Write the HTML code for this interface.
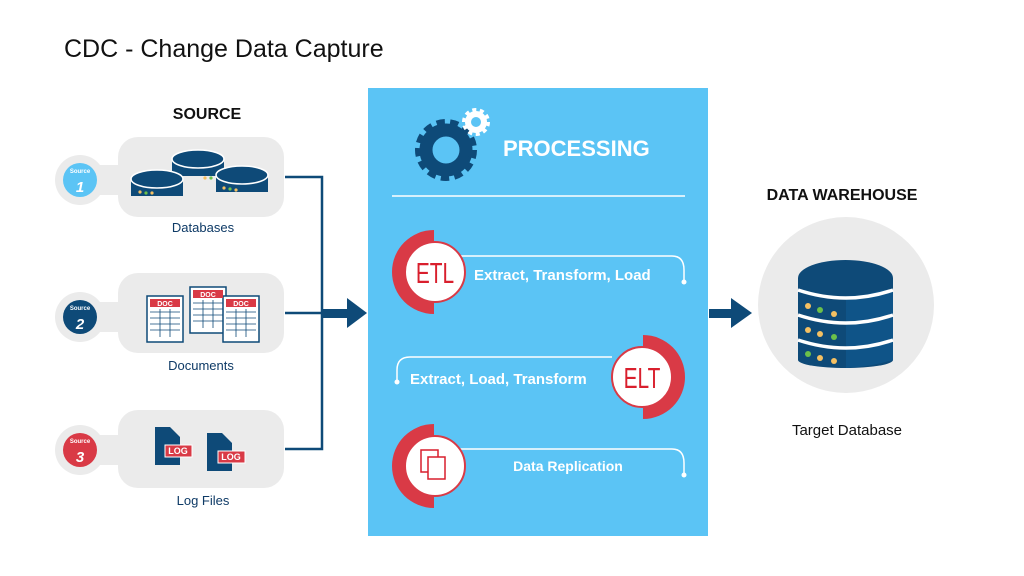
<!DOCTYPE html>
<html><head><meta charset="utf-8"><style>
html,body{margin:0;padding:0;background:#fff;}
svg{display:block;font-family:"Liberation Sans",sans-serif;}
</style></head><body>
<svg width="1024" height="576" viewBox="0 0 1024 576" xmlns="http://www.w3.org/2000/svg">
<rect width="1024" height="576" fill="#fff"/>
<text x="64" y="57" font-size="25" fill="#111">CDC - Change Data Capture</text>
<text x="207" y="119" font-size="16" font-weight="bold" fill="#111" text-anchor="middle">SOURCE</text>

<g fill="#ebebeb">
  <rect x="118" y="137" width="166" height="80" rx="20"/>
  <rect x="118" y="273" width="166" height="80" rx="20"/>
  <rect x="118" y="410" width="166" height="78" rx="20"/>
  <circle cx="80" cy="180" r="25"/><rect x="80" y="165" width="45" height="30"/>
  <circle cx="80" cy="317" r="25"/><rect x="80" y="302" width="45" height="30"/>
  <circle cx="80" cy="450" r="25"/><rect x="80" y="435" width="45" height="30"/>
</g>
<circle cx="80" cy="180" r="17" fill="#5bc4f5"/>
<circle cx="80" cy="317" r="17" fill="#0e4a78"/>
<circle cx="80" cy="450" r="17" fill="#d93a46"/>
<g fill="#fff" font-weight="bold" text-anchor="middle">
  <text x="80" y="173" font-size="6">Source</text><text x="80" y="192" font-size="15" font-style="italic">1</text>
  <text x="80" y="310" font-size="6">Source</text><text x="80" y="329" font-size="15" font-style="italic">2</text>
  <text x="80" y="443" font-size="6">Source</text><text x="80" y="462" font-size="15" font-style="italic">3</text>
</g>

<g>
  <rect x="172" y="160" width="52" height="16" fill="#0e4a78"/><ellipse cx="198" cy="159" rx="26" ry="9" fill="#0e4a78" stroke="#fff" stroke-width="1.5"/>
  <rect x="131" y="180" width="52" height="16" fill="#0e4a78"/><ellipse cx="157" cy="179" rx="26" ry="9" fill="#0e4a78" stroke="#fff" stroke-width="1.5"/>
  <rect x="216" y="176" width="52" height="16" fill="#0e4a78"/><ellipse cx="242" cy="175" rx="26" ry="9" fill="#0e4a78" stroke="#fff" stroke-width="1.5"/>
  <g fill="#f5c062"><circle cx="140" cy="192" r="1.6"/><circle cx="152" cy="193" r="1.6"/><circle cx="205" cy="178" r="1.6"/><circle cx="224" cy="188" r="1.6"/><circle cx="236" cy="190" r="1.6"/></g>
  <g fill="#6cc04a"><circle cx="146" cy="193" r="1.6"/><circle cx="211" cy="178" r="1.6"/><circle cx="230" cy="189" r="1.6"/></g>
</g>
<text x="203" y="232" font-size="13" fill="#0e3a66" text-anchor="middle">Databases</text>

<g stroke="#0e4a78" stroke-width="1.5">
  <rect x="147" y="296" width="36" height="46" fill="#fff"/>
  <rect x="190" y="287" width="36" height="46" fill="#fff"/>
  <rect x="223" y="296" width="36" height="46" fill="#fff"/>
</g>
<g fill="#d93a46"><rect x="150" y="299" width="30" height="8"/><rect x="193" y="290" width="30" height="8"/><rect x="226" y="299" width="30" height="8"/></g>
<g fill="#fff" font-size="7" font-weight="bold" text-anchor="middle"><text x="165" y="306">DOC</text><text x="208" y="297">DOC</text><text x="241" y="306">DOC</text></g>
<g stroke="#0e4a78" stroke-width="0.8" fill="none">
  <path d="M150 312h30M150 318h30M150 324h30M150 330h30M160 309v28M170 309v28"/>
  <path d="M193 303h30M193 309h30M193 315h30M193 321h30M203 300v28M213 300v28"/>
  <path d="M226 312h30M226 318h30M226 324h30M226 330h30M236 309v28M246 309v28"/>
</g>
<text x="201" y="370" font-size="13" fill="#0e3a66" text-anchor="middle">Documents</text>

<path d="M155 427h15l10 10v28h-25z" fill="#0e4a78"/>
<path d="M207 433h15l10 10v28h-25z" fill="#0e4a78"/>
<rect x="165" y="445" width="27" height="12" fill="#d93a46" stroke="#fff"/>
<rect x="218" y="451" width="27" height="12" fill="#d93a46" stroke="#fff"/>
<g fill="#fff" font-size="9" font-weight="bold" text-anchor="middle"><text x="178" y="454">LOG</text><text x="231" y="460">LOG</text></g>
<text x="203" y="505" font-size="13" fill="#0e3a66" text-anchor="middle">Log Files</text>

<g stroke="#0e4a78" stroke-width="2.5" fill="none">
  <path d="M285 177H322V449H285M285 313H322"/>
</g>
<rect x="322" y="309" width="27" height="9" fill="#0e4a78"/>
<path d="M347 298L367 313L347 328z" fill="#0e4a78"/>
<rect x="709" y="309" width="24" height="9" fill="#0e4a78"/>
<path d="M731 298L752 313L731 328z" fill="#0e4a78"/>

<rect x="368" y="88" width="340" height="448" fill="#5bc4f5"/>
<circle cx="446" cy="150" r="20" fill="none" stroke="#0e4a78" stroke-width="13"/>
<circle cx="446" cy="150" r="27" fill="none" stroke="#0e4a78" stroke-width="8" stroke-dasharray="8 5.1"/>
<circle cx="476" cy="122" r="8" fill="none" stroke="#fff" stroke-width="6"/>
<circle cx="476" cy="122" r="12" fill="none" stroke="#fff" stroke-width="4" stroke-dasharray="4 3.5"/>
<text x="503" y="156" font-size="22" font-weight="bold" fill="#fff">PROCESSING</text>
<line x1="392" y1="196" x2="685" y2="196" stroke="#fff" stroke-width="1.5"/>

<g fill="none" stroke="#fff" stroke-width="1.5">
  <path d="M455 256H672Q684 256 684 270V282"/>
  <path d="M612 357H410Q397 357 397 370V382"/>
  <path d="M455 449H672Q684 449 684 463V475"/>
</g>
<g fill="#fff"><circle cx="684" cy="282" r="2.5"/><circle cx="397" cy="382" r="2.5"/><circle cx="684" cy="475" r="2.5"/></g>

<path d="M434 230A42 42 0 0 0 434 314z" fill="#d93a46"/>
<circle cx="435" cy="272" r="30" fill="#fff" stroke="#d93a46" stroke-width="2"/>
<text x="0" y="283" font-size="29" fill="#d91f2d" text-anchor="middle" transform="translate(435 0) scale(0.72 1)">ETL</text>
<text x="474" y="280" font-size="15" font-weight="bold" fill="#fff">Extract, Transform, Load</text>

<path d="M643 335A42 42 0 0 1 643 419z" fill="#d93a46"/>
<circle cx="642" cy="377" r="30" fill="#fff" stroke="#d93a46" stroke-width="2"/>
<text x="0" y="388" font-size="29" fill="#d91f2d" text-anchor="middle" transform="translate(642 0) scale(0.72 1)">ELT</text>
<text x="410" y="384" font-size="15" font-weight="bold" fill="#fff">Extract, Load, Transform</text>

<path d="M434 424A42 42 0 0 0 434 508z" fill="#d93a46"/>
<circle cx="435" cy="466" r="30" fill="#fff" stroke="#d93a46" stroke-width="2"/>
<rect x="421" y="450" width="17" height="22" fill="#fff" stroke="#d91f2d" stroke-width="1.5"/>
<rect x="428" y="457" width="17" height="22" fill="#fff" stroke="#d91f2d" stroke-width="1.5"/>
<text x="568" y="471" font-size="14" font-weight="bold" fill="#fff" text-anchor="middle">Data Replication</text>

<text x="842" y="200" font-size="16" font-weight="bold" fill="#111" text-anchor="middle">DATA WAREHOUSE</text>
<circle cx="846" cy="305" r="88" fill="#ebebeb"/>
<g>
  <rect x="798" y="278" width="95" height="82" fill="#0e4a78"/>
  <ellipse cx="845.5" cy="360" rx="47.5" ry="8" fill="#0e4a78"/>
  <path d="M846 290V368Q870 367 893 360V290z" fill="#0f5488"/>
  <ellipse cx="845.5" cy="278" rx="47.5" ry="18" fill="#0e4a78"/>
  <path d="M798 290Q846 306 893 290M798 315Q846 331 893 315M798 340Q846 356 893 340" fill="none" stroke="#fff" stroke-width="3.5"/>
</g>
<g fill="#f5c062"><circle cx="808" cy="306" r="3"/><circle cx="834" cy="314" r="3"/><circle cx="808" cy="330" r="3"/><circle cx="820" cy="334" r="3"/><circle cx="820" cy="358" r="3"/><circle cx="834" cy="361" r="3"/></g>
<g fill="#6cc04a"><circle cx="820" cy="310" r="3"/><circle cx="834" cy="337" r="3"/><circle cx="808" cy="354" r="3"/></g>
<text x="847" y="435" font-size="15" fill="#111" text-anchor="middle">Target Database</text>
</svg>
</body></html>
